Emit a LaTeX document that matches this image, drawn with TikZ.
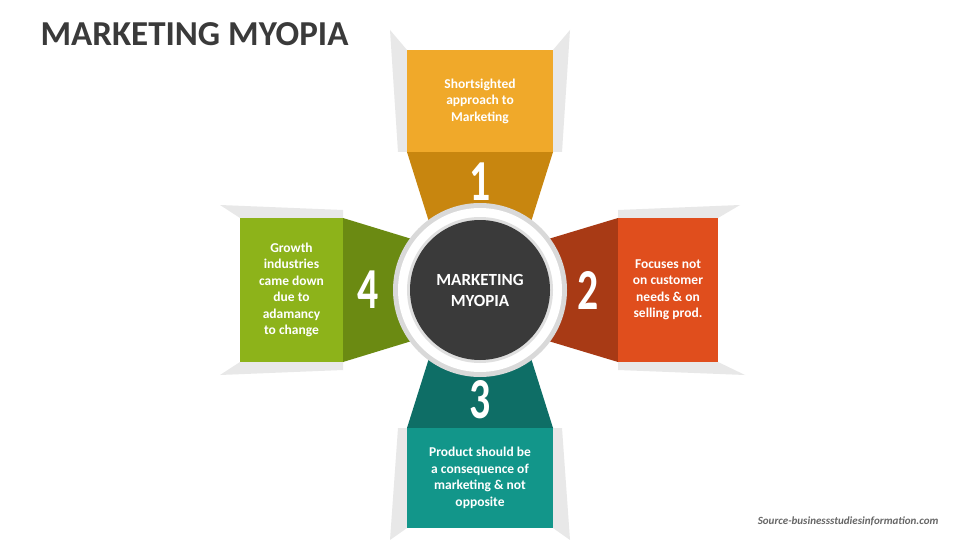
\documentclass[tikz,border=0pt]{standalone}
\usepackage{fontspec}
\usepackage{graphicx}
\setmainfont{Carlito}
\definecolor{oraA}{HTML}{F0A92A}\definecolor{oraB}{HTML}{C8860F}
\definecolor{redA}{HTML}{E04E1D}\definecolor{redB}{HTML}{A83A15}
\definecolor{teaA}{HTML}{12968A}\definecolor{teaB}{HTML}{0E6E66}
\definecolor{grnA}{HTML}{8DB31A}\definecolor{grnB}{HTML}{6B8A12}
\definecolor{ttl}{HTML}{3A3A3A}
\newcommand{\numtxt}[1]{\scalebox{0.72}[1]{#1}}
\begin{document}
\begin{tikzpicture}[x=1pt,y=-1pt,
  txt/.style={text=white,font=\bfseries\fontsize{13.5}{16.5}\selectfont,align=center},
  num/.style={text=white,font=\bfseries\fontsize{58}{58}\selectfont},
  shad/.style={fill=gray!18,draw=none}]
\useasboundingbox (0,0) rectangle (960,540);
\fill[white] (0,0) rectangle (960,540);
\node[anchor=west,text=ttl,font=\bfseries\fontsize{35}{40}\selectfont] (title) at (37,34) {MARKETING MYOPIA};
% shadows
\fill[shad] (407,50)--(390,30)--(398,152)--(407,152)--cycle;
\fill[shad] (553,50)--(570,30)--(562,152)--(553,152)--cycle;
\fill[shad] (618,218)--(718,218)--(740,205)--(618,210)--cycle;
\fill[shad] (618,362)--(718,362)--(745,375)--(618,370)--cycle;
\fill[shad] (407,528)--(390,540)--(398,428)--(407,428)--cycle;
\fill[shad] (553,528)--(570,540)--(562,428)--(553,428)--cycle;
\fill[shad] (240,218)--(343,218)--(343,210)--(220,205)--cycle;
\fill[shad] (240,362)--(343,362)--(343,370)--(220,375)--cycle;
% trapezoids
\fill[oraB] (407,152)--(553,152)--(530,225)--(430,225)--cycle;
\fill[redB] (618,218)--(618,362)--(545,340)--(545,240)--cycle;
\fill[teaB] (407,428)--(553,428)--(530,355)--(430,355)--cycle;
\fill[grnB] (343,218)--(343,362)--(415,340)--(415,240)--cycle;
% boxes
\node[fill=oraA,minimum width=146,minimum height=102,inner sep=0,txt] (b1) at (480,101) {Shortsighted\\approach to\\Marketing};
\node[fill=redA,minimum width=100,minimum height=144,inner sep=0,txt] (b2) at (668,290) {Focuses not\\on customer\\needs \& on\\selling prod.};
\node[fill=teaA,minimum width=146,minimum height=100,inner sep=0,txt] (b3) at (480,478) {Product should be\\a consequence of\\marketing \& not\\opposite};
\node[fill=grnA,minimum width=103,minimum height=144,inner sep=0,txt] (b4) at (291.5,290) {Growth\\industries\\came down\\due to\\adamancy\\to change};
% center
\fill[gray!30] (480,290) circle (87);
\fill[white] (480,290) circle (82);
\fill[gray!25] (480,290) circle (73);
\node[circle,fill=ttl,minimum size=140,inner sep=0,text=white,font=\bfseries\fontsize{17}{21}\selectfont,align=center] (c) at (480,290) {MARKETING\\MYOPIA};
\node[num] (n1) at (480,182) {\numtxt{1}};
\node[num] (n2) at (588,290) {\numtxt{2}};
\node[num] (n3) at (480,400) {\numtxt{3}};
\node[num] (n4) at (368,290) {\numtxt{4}};
\node[anchor=east,text=gray!80!black,font=\bfseries\itshape\fontsize{11}{13}\selectfont] (src) at (942,521) {Source-businessstudiesinformation.com};
\end{tikzpicture}
\end{document}
